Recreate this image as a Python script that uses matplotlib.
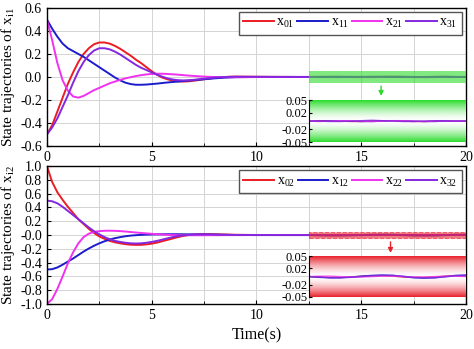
import numpy as np
import matplotlib
matplotlib.use("Agg")
import matplotlib.pyplot as plt
from matplotlib.colors import LinearSegmentedColormap
from matplotlib.patches import Rectangle

plt.rcParams['font.family'] = ['Liberation Serif', 'DejaVu Serif']
plt.rcParams['mathtext.fontset'] = 'custom'
plt.rcParams['mathtext.rm'] = 'Liberation Serif'
plt.rcParams['mathtext.it'] = 'Liberation Serif'

# time grid: 0..9 every 0.25 s, then 10, 11, 12, then the zoomed tail 12.5..20
t_head = np.concatenate([np.arange(0, 9.01, 0.25), [10, 11, 12]])
t_tail = np.arange(12.5, 20.01, 0.5)
t = np.concatenate([t_head, t_tail])

# ---- first state component x_i1 ----
x01_head = [-0.50, -0.42, -0.30, -0.18, -0.06, 0.04, 0.13, 0.20, 0.25, 0.285, 0.30, 0.30,
            0.29, 0.27, 0.245, 0.215, 0.185, 0.15, 0.12, 0.085, 0.05, 0.02, -0.005, -0.02,
            -0.032, -0.038, -0.04, -0.038, -0.033, -0.027, -0.02, -0.014, -0.008, -0.004,
            0.0, 0.002, 0.003, 0.002, 0.001, 0.0]
x11_head = [0.50, 0.42, 0.35, 0.29, 0.25, 0.225, 0.20, 0.175, 0.145, 0.115, 0.085, 0.055,
            0.025, -0.005, -0.03, -0.05, -0.062, -0.068, -0.068, -0.066, -0.062, -0.058,
            -0.053, -0.048, -0.044, -0.04, -0.036, -0.032, -0.028, -0.024, -0.02, -0.016,
            -0.012, -0.009, -0.006, -0.004, -0.002, 0.0, 0.0, 0.0]
x21_head = [0.50, 0.32, 0.12, -0.03, -0.12, -0.17, -0.18, -0.165, -0.14, -0.115, -0.095,
            -0.075, -0.055, -0.04, -0.025, -0.012, -0.002, 0.008, 0.016, 0.022, 0.026, 0.028,
            0.028, 0.026, 0.023, 0.02, 0.016, 0.012, 0.009, 0.006, 0.003, 0.001, 0.0, -0.001,
            -0.002, -0.002, -0.002, -0.001, 0.0, 0.0]
x31_head = [-0.50, -0.44, -0.36, -0.26, -0.16, -0.05, 0.05, 0.13, 0.19, 0.23, 0.25, 0.25,
            0.24, 0.22, 0.195, 0.165, 0.135, 0.105, 0.08, 0.06, 0.04, 0.02, 0.003, -0.012,
            -0.022, -0.028, -0.03, -0.029, -0.025, -0.02, -0.015, -0.01, -0.006, -0.003,
            -0.001, 0.001, 0.002, 0.001, 0.0, 0.0]
x01_tail = [0.0, 0.001, 0.001, 0.0, -0.001, -0.001, 0.0, 0.001, 0.001, 0.0, -0.001, -0.001,
            0.0, 0.001, 0.0, 0.0]
x11_tail = [0.0, 0.0, 0.001, 0.001, 0.0, -0.001, -0.001, 0.0, 0.001, 0.001, 0.0, -0.001,
            -0.001, 0.0, 0.0, 0.0]
x21_tail = [0.0, -0.001, 0.0, 0.001, 0.001, 0.0, -0.001, 0.0, 0.001, 0.001, 0.0, -0.001,
            0.0, 0.001, 0.0, 0.0]
x31_tail = [0.0, 0.0, -0.001, -0.001, 0.0, 0.001, 0.002, 0.001, 0.0, -0.001, -0.001, 0.0,
            0.001, 0.001, 0.0, 0.0]

# ---- second state component x_i2 ----
x02_head = [1.00, 0.77, 0.62, 0.51, 0.41, 0.32, 0.23, 0.16, 0.09, 0.03, -0.02, -0.055,
            -0.085, -0.105, -0.12, -0.132, -0.14, -0.143, -0.142, -0.135, -0.125, -0.11,
            -0.09, -0.07, -0.05, -0.03, -0.013, 0.0, 0.007, 0.011, 0.013, 0.013, 0.012, 0.01,
            0.008, 0.006, 0.004, 0.001, 0.0, 0.0]
x12_head = [-0.50, -0.495, -0.47, -0.43, -0.385, -0.34, -0.29, -0.24, -0.195, -0.155, -0.12,
            -0.09, -0.065, -0.045, -0.03, -0.017, -0.008, -0.002, 0.003, 0.006, 0.008, 0.01,
            0.011, 0.012, 0.012, 0.012, 0.011, 0.01, 0.009, 0.008, 0.007, 0.006, 0.005, 0.004,
            0.003, 0.002, 0.001, 0.0, 0.0, 0.0]
x22_head = [-1.00, -0.93, -0.78, -0.60, -0.41, -0.25, -0.12, -0.03, 0.02, 0.045, 0.057,
            0.062, 0.063, 0.061, 0.057, 0.051, 0.044, 0.037, 0.03, 0.024, 0.018, 0.012, 0.007,
            0.003, 0.0, -0.002, -0.003, -0.003, -0.003, -0.003, -0.003, -0.002, -0.002,
            -0.002, -0.001, -0.001, -0.001, 0.0, 0.0, 0.0]
x32_head = [0.50, 0.49, 0.46, 0.41, 0.35, 0.29, 0.23, 0.17, 0.11, 0.055, 0.01, -0.03, -0.06,
            -0.085, -0.10, -0.112, -0.12, -0.123, -0.12, -0.112, -0.10, -0.085, -0.067,
            -0.048, -0.03, -0.015, -0.004, 0.003, 0.007, 0.009, 0.009, 0.008, 0.006, 0.004,
            0.003, 0.002, 0.001, 0.0, 0.0, 0.0]
x02_tail = [0.0, -0.001, -0.002, -0.002, -0.001, 0.001, 0.002, 0.002, 0.001, -0.001, -0.002,
            -0.002, -0.001, 0.001, 0.002, 0.001]
x12_tail = [0.0, -0.002, -0.003, -0.003, -0.001, 0.001, 0.003, 0.004, 0.003, 0.0, -0.003,
            -0.004, -0.003, 0.0, 0.003, 0.004]
x22_tail = [0.0, 0.001, 0.001, 0.0, -0.001, -0.001, 0.0, 0.001, 0.001, 0.0, -0.001, -0.001,
            0.0, 0.001, 0.001, 0.0]
x32_tail = [0.0, -0.001, -0.003, -0.003, -0.002, 0.0, 0.002, 0.003, 0.003, 0.001, -0.002,
            -0.003, -0.003, -0.001, 0.002, 0.003]

colors = ['#ec1c24', '#1c1ccc', '#f032f0', '#8428e0']
labels1 = [r'$\mathrm{x_{01}}$', r'$\mathrm{x_{11}}$', r'$\mathrm{x_{21}}$', r'$\mathrm{x_{31}}$']
labels2 = [r'$\mathrm{x_{02}}$', r'$\mathrm{x_{12}}$', r'$\mathrm{x_{22}}$', r'$\mathrm{x_{32}}$']

top_series = [(x01_head, x01_tail), (x11_head, x11_tail), (x21_head, x21_tail), (x31_head, x31_tail)]
bot_series = [(x02_head, x02_tail), (x12_head, x12_tail), (x22_head, x22_tail), (x32_head, x32_tail)]

fig = plt.figure(figsize=(4.74, 3.49), dpi=100)
ax1 = fig.add_axes([0.099, 0.582, 0.884, 0.395])
ax2 = fig.add_axes([0.099, 0.129, 0.884, 0.395])


def style_axes(ax, ylim, yticks):
    ax.set_xlim(0, 20)
    ax.set_ylim(*ylim)
    ax.set_xticks([0, 5, 10, 15, 20])
    ax.set_xticks([2.5, 7.5, 12.5, 17.5], minor=True)
    ax.set_yticks(yticks)
    ax.set_yticklabels([f'{v:.1f}' for v in yticks])
    ax.tick_params(which='both', direction='in', labelsize=10, length=3)
    ax.tick_params(which='minor', length=2)
    ax.grid(True, which='major', color='#d4d4d4', lw=0.7)
    ax.grid(True, which='minor', axis='x', color='#d4d4d4', lw=0.7)
    ax.set_axisbelow(True)
    for s in ax.spines.values():
        s.set_linewidth(1.0)


def add_inset(ax_main, pos, series, color, dashed_band):
    # highlight band on the main axes
    band = Rectangle((12.5, -0.05), 7.5, 0.1, facecolor=color, alpha=0.6,
                     edgecolor=color if dashed_band else 'none', ls='--', lw=0.8, zorder=5)
    ax_main.add_patch(band)
    ins = fig.add_axes(pos)
    cmap = LinearSegmentedColormap.from_list('fade', ['white', color])
    grad = np.abs(np.linspace(-1, 1, 200)).reshape(-1, 1) ** 1.6
    ins.imshow(grad, extent=[12.5, 20, -0.05, 0.05], aspect='auto', cmap=cmap,
               origin='lower', zorder=0)
    for (head, tail), c in zip(series, colors):
        ins.plot(t_tail, tail, color=c, lw=1.0, alpha=0.8, zorder=2)
    ins.set_xlim(12.5, 20)
    ins.set_ylim(-0.05, 0.05)
    ins.set_yticks([0.05, 0.02, -0.02, -0.05])
    ins.set_yticklabels(['0.05', '0.02', '-0.02', '-0.05'])
    ins.set_xticks([])
    ins.tick_params(axis='y', direction='in', labelsize=9, length=2, pad=1)
    for side in ['top', 'right', 'bottom']:
        ins.spines[side].set_visible(False)
    ins.spines['left'].set_linewidth(0.8)
    return ins


for ax, series, labels in [(ax1, top_series, labels1), (ax2, bot_series, labels2)]:
    for (head, tail), c, lab in zip(series, colors, labels):
        ax.plot(t, np.concatenate([head, tail]), color=c, lw=1.4, label=lab)
    ax.legend(loc='upper right', ncol=4, fontsize=10, frameon=True, fancybox=False,
              edgecolor='#555555', framealpha=1, handlelength=2.2, handletextpad=0.2,
              columnspacing=0.2, borderpad=0.3, borderaxespad=0.3)

style_axes(ax1, (-0.6, 0.6), np.round(np.arange(-0.6, 0.61, 0.2), 1))
style_axes(ax2, (-1.0, 1.0), np.round(np.arange(-1.0, 1.01, 0.2), 1))

ax1.set_ylabel(r'State trajectories of $\mathrm{x_{i1}}$', fontsize=11, labelpad=2)
ax2.set_ylabel(r'State trajectories of $\mathrm{x_{i2}}$', fontsize=11, labelpad=2)
ax2.set_xlabel('Time(s)', fontsize=11.5, labelpad=4)

add_inset(ax1, [0.652, 0.593, 0.331, 0.120], top_series, '#2bdc2b', False)
add_inset(ax2, [0.652, 0.149, 0.331, 0.117], bot_series, '#e8202c', True)

# arrows from the highlighted band down to the zoomed views
ax1.annotate('', xy=(15.95, -0.19), xytext=(15.95, -0.055),
             arrowprops=dict(arrowstyle='-|>', color='#2bdc2b', lw=1.0, mutation_scale=7),
             zorder=6)
ax2.annotate('', xy=(16.4, -0.30), xytext=(16.4, -0.06),
             arrowprops=dict(arrowstyle='-|>', color='#e8202c', lw=1.0, mutation_scale=7),
             zorder=6)

fig.savefig('out.png', dpi=100)
